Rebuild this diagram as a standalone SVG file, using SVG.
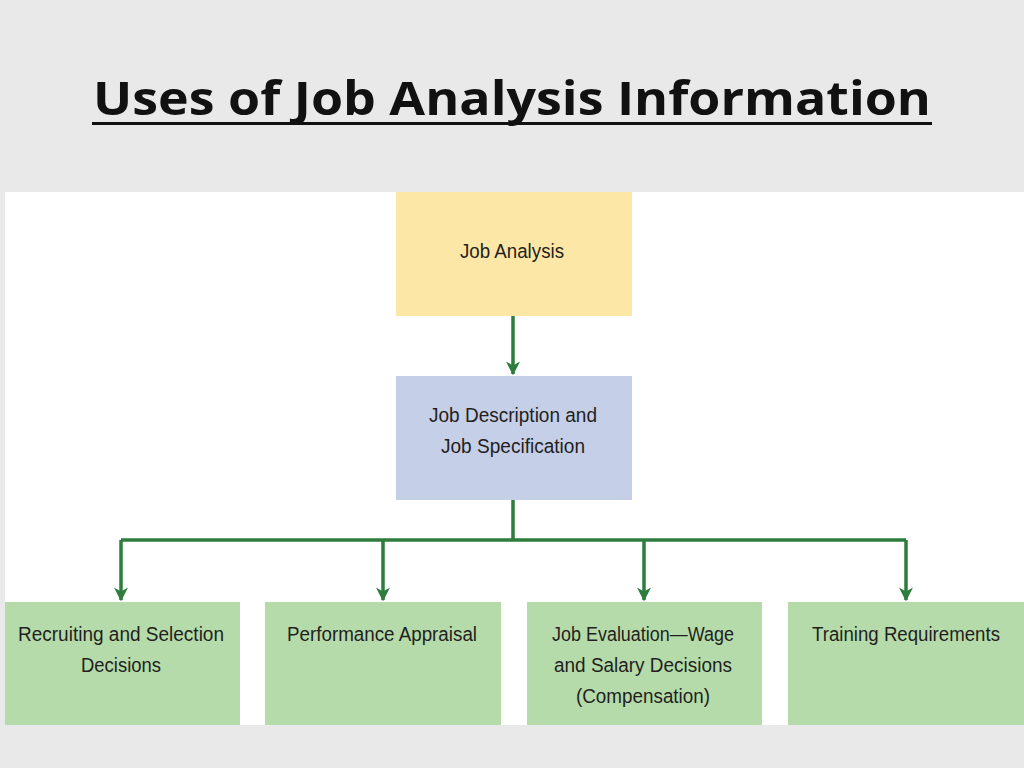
<svg xmlns="http://www.w3.org/2000/svg" width="1024" height="768" viewBox="0 0 1024 768">
<style>
.t{font-family:"Liberation Sans Narrow","Liberation Sans",Arial,sans-serif;font-size:20px;fill:#231f20;text-anchor:middle}
.c{stroke:#2e7d3c;stroke-width:3.5;fill:none}
</style>
<defs><marker id="a" viewBox="0 0 10 10" refX="9" refY="5" markerWidth="4" markerHeight="6" orient="auto" markerUnits="strokeWidth"><path d="M0,0 L10,5 L0,10 L3,5 Z" fill="#2e7d3c"/></marker></defs>
<rect width="1024" height="768" fill="#e9e9e9"/>
<text x="512" y="115" font-family="'Open Sans','Liberation Sans',sans-serif" font-weight="bold" font-size="46" text-anchor="middle" textLength="838" lengthAdjust="spacingAndGlyphs" fill="#111">Uses of Job Analysis Information</text>
<rect x="92" y="122" width="840" height="3" fill="#111"/>
<rect x="5" y="192" width="1019" height="533" fill="#fff"/>
<g id="n1"><rect x="396" y="192" width="236" height="124" fill="#fde7a6"/><text class="t" x="512" y="258" textLength="104" lengthAdjust="spacingAndGlyphs">Job Analysis</text></g>
<g id="n2"><rect x="396" y="376" width="236" height="124" fill="#c5cfe8"/><text class="t" x="513" y="422" textLength="168" lengthAdjust="spacingAndGlyphs">Job Description and</text><text class="t" x="513" y="453" textLength="144" lengthAdjust="spacingAndGlyphs">Job Specification</text></g>
<g id="n3"><rect x="5" y="602" width="235" height="123" fill="#b5dbaa"/><text class="t" x="121" y="641" textLength="206" lengthAdjust="spacingAndGlyphs">Recruiting and Selection</text><text class="t" x="121" y="672" textLength="80" lengthAdjust="spacingAndGlyphs">Decisions</text></g>
<g id="n4"><rect x="265" y="602" width="236" height="123" fill="#b5dbaa"/><text class="t" x="382" y="641" textLength="190" lengthAdjust="spacingAndGlyphs">Performance Appraisal</text></g>
<g id="n5"><rect x="527" y="602" width="235" height="123" fill="#b5dbaa"/><text class="t" x="643" y="641" textLength="182" lengthAdjust="spacingAndGlyphs">Job Evaluation—Wage</text><text class="t" x="643" y="672" textLength="178" lengthAdjust="spacingAndGlyphs">and Salary Decisions</text><text class="t" x="643" y="703" textLength="134" lengthAdjust="spacingAndGlyphs">(Compensation)</text></g>
<g id="n6"><rect x="788" y="602" width="236" height="123" fill="#b5dbaa"/><text class="t" x="906" y="641" textLength="188" lengthAdjust="spacingAndGlyphs">Training Requirements</text></g>
<g id="connectors">
<path class="c" d="M513,316 V374" marker-end="url(#a)"/>
<path class="c" d="M513,500 V540 M121,540 H906"/>
<path class="c" d="M121,540 V600" marker-end="url(#a)"/>
<path class="c" d="M383,540 V600" marker-end="url(#a)"/>
<path class="c" d="M644,540 V600" marker-end="url(#a)"/>
<path class="c" d="M906,540 V600" marker-end="url(#a)"/>
</g>
</svg>
